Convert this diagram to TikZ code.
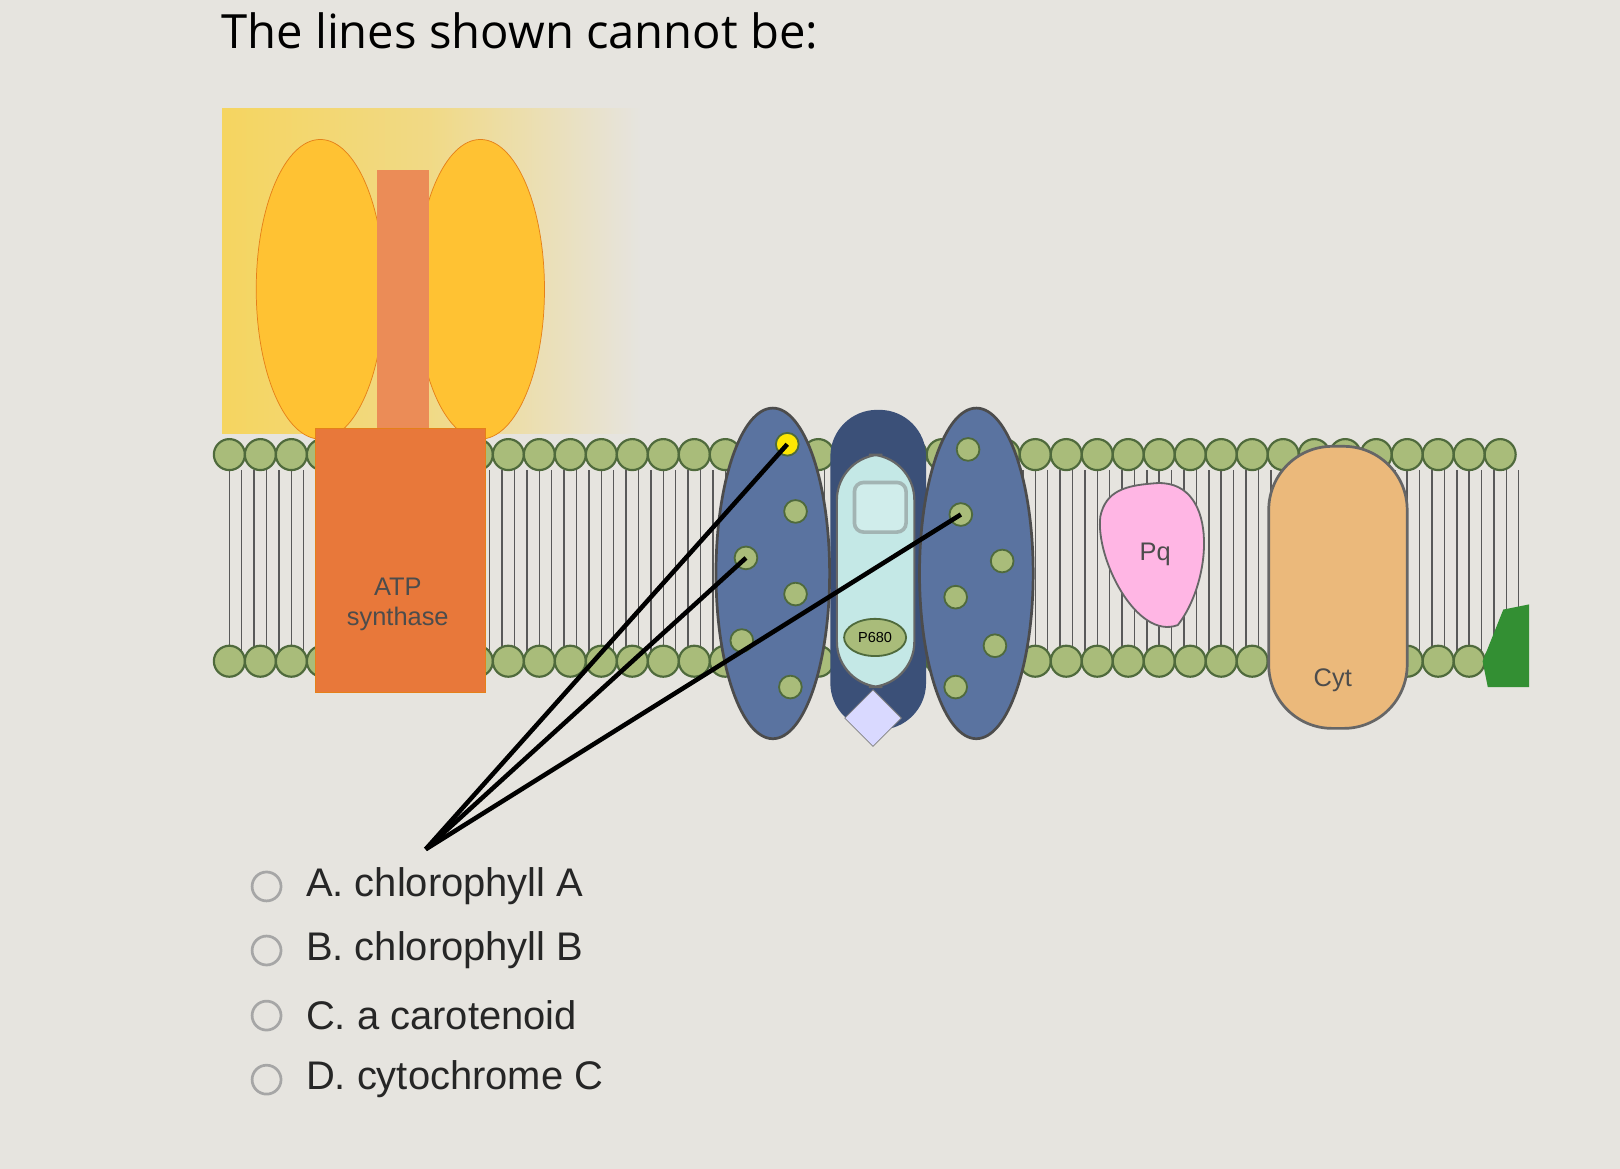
\documentclass[tikz,border=0pt]{standalone}
\usepackage{fontspec}
\setmainfont{Liberation Sans}
\newfontfamily\titlefont{Open Sans}
\usetikzlibrary{shapes.geometric}
\definecolor{bg}{HTML}{E6E4DF}
\definecolor{head}{HTML}{A9BC7A}
\definecolor{headd}{HTML}{4F6A3C}
\definecolor{psb}{HTML}{5A73A0}
\definecolor{psd}{HTML}{3B5078}
\definecolor{teal}{HTML}{C4E8E6}
\definecolor{orng}{HTML}{E8783A}
\definecolor{lorng}{HTML}{E6A85A}
\definecolor{glow}{HTML}{F5D560}
\begin{document}
\begin{tikzpicture}[x=0.02cm,y=-0.02cm,
  headc/.style={circle,fill=head,draw=headd,line width=1.2pt,minimum size=30*0.02cm,inner sep=0},
  dot/.style={circle,fill=head,draw=headd,line width=1pt,minimum size=22*0.02cm,inner sep=0},
  opt/.style={circle,draw=gray!70,line width=1.5pt,minimum size=28*0.02cm,inner sep=0},
  optt/.style={anchor=west,font=\fontsize{22}{26}\selectfont,text=black!85},
  lbl/.style={text=gray!60!black,font=\fontsize{14}{16}\selectfont}]
\fill[bg] (0,0) rectangle (1568,1131);
\useasboundingbox (0,0) rectangle (1568,1131);
\node[anchor=west,font=\titlefont\fontsize{26}{30}\selectfont] (title) at (208,30) {The lines shown cannot be:};
% glow
\shade[left color=glow,right color=bg,middle color=glow!70!bg] (215,105) rectangle (620,420);
% membrane tails
\foreach \x in {222,234,...,1480} {\draw[gray!70!black,line width=0.8pt] (\x,455) -- (\x,630);}
\foreach \x in {222,252,...,1480} {\node[headc] at (\x,440) {}; \node[headc] at (\x,640) {};}
% ATP synthase
\fill[orange!60!yellow!80!white,draw=orange!60!brown] (310,280) ellipse (62 and 145);
\fill[orange!60!yellow!80!white,draw=orange!60!brown] (465,280) ellipse (62 and 145);
\fill[orng!85] (365,165) rectangle (415,420);
\fill[orng,draw=orange!60!brown] (305,415) rectangle (470,670);
\node[lbl,align=center] (atp) at (385,585) {ATP\\synthase};
% PSII
\draw[psd,fill=psd,line width=1.5pt,rounded corners=25] (805,398) rectangle (895,705);
\draw[black!70,fill=psb,line width=1.5pt] (748,555) ellipse (55 and 160);
\draw[black!70,fill=psb,line width=1.5pt] (945,555) ellipse (55 and 160);
\draw[black!60,fill=teal,line width=1.2pt,rounded corners=25] (810,440) rectangle (885,665);
\draw[teal!50!gray,fill=teal!80,line width=2pt,rounded corners=5] (827,467) rectangle (877,515);
\node[diamond,fill=blue!15!white,draw=black!50,minimum size=55*0.02cm] (dia) at (845,695) {};
\node[ellipse,fill=head,draw=headd,line width=1pt,minimum width=60*0.02cm,minimum height=36*0.02cm,inner sep=0,font=\fontsize{8}{9}\selectfont] (p680) at (847,617) {P680};
\node[dot,fill=yellow!90!orange] (c1) at (762,430) {};
\node[dot] (c2) at (770,495) {};
\node[dot] (c3) at (722,540) {};
\node[dot] at (770,575) {};
\node[dot] at (718,620) {};
\node[dot] at (765,665) {};
\node[dot] at (937,435) {};
\node[dot] (c4) at (930,498) {};
\node[dot] at (970,543) {};
\node[dot] at (925,578) {};
\node[dot] at (963,625) {};
\node[dot] at (925,665) {};
% Pq
\draw[black!60,fill=pink!70!magenta!60,line width=1pt] (1115,468) .. controls (1180,460) and (1175,560) .. (1140,605) .. controls (1100,620) and (1060,540) .. (1065,500) .. controls (1070,475) and (1090,470) .. (1115,468);
\node[lbl] (pq) at (1118,537) {Pq};
% Cyt
\draw[black!60,fill=lorng!80!white,line width=1.5pt,rounded corners=35] (1228,432) rectangle (1362,705);
\node[lbl] (cyt) at (1290,658) {Cyt};
% green
\fill[green!45!black!80] (1480,585) -- (1455,590) -- (1435,640) -- (1440,665) -- (1480,665) -- cycle;
% lines
\coordinate (apex) at (412,822);
\foreach \t in {c1,c3,c4} {\draw[black,line width=2.5pt] (apex) -- (\t.center);}
% options
\foreach \y/\l/\n in {858/A. chlorophyll A/oa,920/B. chlorophyll B/ob,983/C. a carotenoid/oc,1045/D. cytochrome C/od} {
  \node[opt] (\n) at (258,\y) {};
  \node[optt] at (290,\y) {\l};}
\end{tikzpicture}
\end{document}
